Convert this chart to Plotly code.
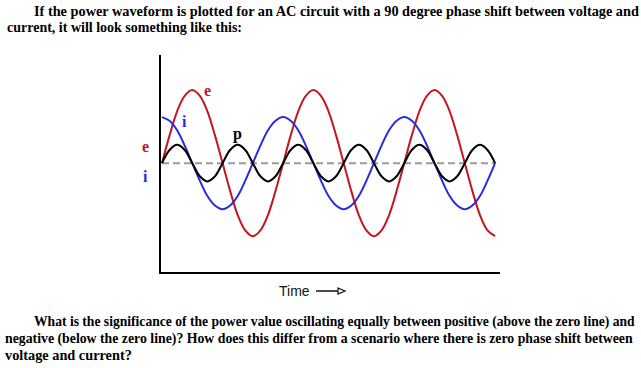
import plotly.graph_objects as go

# time steps (sixteenths of one voltage period)
time = [0, 1, 2, 3, 4, 5, 6, 7, 8, 9, 10, 11, 12, 13, 14, 15, 16, 17, 18, 19, 20, 21, 22,
        23, 24, 25, 26, 27, 28, 29, 30, 31, 32, 33, 34, 35, 36, 37, 38, 39, 40, 41, 42, 43, 44]

# voltage e (red)
e_vals = [0, .38, .71, .92, 1, .92, .71, .38, 0, -.38, -.71, -.92, -1, -.92, -.71, -.38,
          0, .38, .71, .92, 1, .92, .71, .38, 0, -.38, -.71, -.92, -1, -.92, -.71, -.38,
          0, .38, .71, .92, 1, .92, .71, .38, 0, -.38, -.71, -.92, -1]

# current i (blue)
i_vals = [.63, .58, .45, .24, 0, -.24, -.45, -.58, -.63, -.58, -.45, -.24, 0, .24, .45, .58,
          .63, .58, .45, .24, 0, -.24, -.45, -.58, -.63, -.58, -.45, -.24, 0, .24, .45, .58,
          .63, .58, .45, .24, 0, -.24, -.45, -.58, -.63, -.58, -.45, -.24, 0]

# power p (black)
p_vals = [0, .18, .25, .18, 0, -.18, -.25, -.18, 0, .18, .25, .18, 0, -.18, -.25, -.18,
          0, .18, .25, .18, 0, -.18, -.25, -.18, 0, .18, .25, .18, 0, -.18, -.25, -.18,
          0, .18, .25, .18, 0, -.18, -.25, -.18, 0, .18, .25, .18, 0]

zero_line = [0, 0]
zero_time = [0, 44]

top_lines = [
    "If the power waveform is plotted for an AC circuit with a 90 degree phase shift between voltage and",
    "current, it will look something like this:",
]
bottom_lines = [
    "What is the significance of the power value oscillating equally between positive (above the zero line) and",
    "negative (below the zero line)? How does this differ from a scenario where there is zero phase shift between",
    "voltage and current?",
]

RED = "#c4161c"
BLUE = "#2b2bd8"
BLACK = "#000000"

W, H = 641, 368
L, R, T, B = 161, 500, 55, 272


def px(x):
    return (x - L) / (R - L)


def py(y):
    return (B - y) / (B - T)


fig = go.Figure()
fig.add_trace(go.Scatter(x=zero_time, y=zero_line, mode="lines",
                         line=dict(color="#9a9a9a", width=2, dash="7px,4px"), hoverinfo="skip"))
fig.add_trace(go.Scatter(x=time, y=e_vals, mode="lines",
                         line=dict(color=RED, width=2, shape="spline", smoothing=1)))
fig.add_trace(go.Scatter(x=time, y=i_vals, mode="lines",
                         line=dict(color=BLUE, width=2, shape="spline", smoothing=1)))
fig.add_trace(go.Scatter(x=time, y=p_vals, mode="lines",
                         line=dict(color=BLACK, width=2, shape="spline", smoothing=1)))

serif = "Liberation Serif"
ann = []
top_sizes = [14.3, 14.0]
bottom_sizes = [13.6, 13.8, 14.3]
for k, line in enumerate(top_lines):
    ann.append(dict(text="<b>" + line + "</b>", x=px(32 if k == 0 else 5), y=py(11 + 16.5 * k),
                    xref="paper", yref="paper", xanchor="left", yanchor="middle",
                    showarrow=False, font=dict(family=serif, size=top_sizes[k], color="black")))
for k, line in enumerate(bottom_lines):
    ann.append(dict(text="<b>" + line + "</b>", x=px(32 if k == 0 else 3), y=py(322 + 16.5 * k),
                    xref="paper", yref="paper", xanchor="left", yanchor="middle",
                    showarrow=False, font=dict(family=serif, size=bottom_sizes[k], color="black")))

labels = [("e", RED, 207, 91), ("i", BLUE, 184, 121), ("p", BLACK, 237, 134),
          ("e", RED, 145, 146), ("i", BLUE, 145, 176)]
for t, c, x, y in labels:
    ann.append(dict(text="<b>" + t + "</b>", x=px(x), y=py(y), xref="paper", yref="paper",
                    xanchor="center", yanchor="middle", showarrow=False,
                    font=dict(family=serif, size=16, color=c)))

ann.append(dict(text="Time", x=px(294), y=py(291), xref="paper", yref="paper",
                xanchor="center", yanchor="middle", showarrow=False,
                font=dict(family="Liberation Sans", size=14, color="#111")))

shapes = [
    dict(type="line", xref="paper", yref="paper", x0=px(316), x1=px(338), y0=py(291), y1=py(291),
         line=dict(color="#111", width=1.5)),
    dict(type="path", xref="paper", yref="paper",
         path="M {} {} L {} {} L {} {} Z".format(px(338), py(288), px(345), py(291), px(338), py(294)),
         line=dict(color="#111", width=1.2), fillcolor="white"),
]

fig.update_layout(
    width=W, height=H,
    margin=dict(l=L, r=W - R, t=T, b=H - B),
    paper_bgcolor="white", plot_bgcolor="white",
    showlegend=False,
    annotations=ann, shapes=shapes,
    xaxis=dict(range=[-0.13, 44.65], showline=True, linecolor="black", linewidth=2,
               showgrid=False, zeroline=False, showticklabels=False, ticks=""),
    yaxis=dict(range=[-1.49, 1.48], showline=True, linecolor="black", linewidth=2,
               showgrid=False, zeroline=False, showticklabels=False, ticks=""),
)
fig.write_html("out.html", config={"displayModeBar": False},
               post_script="document.body.style.margin='0';")
